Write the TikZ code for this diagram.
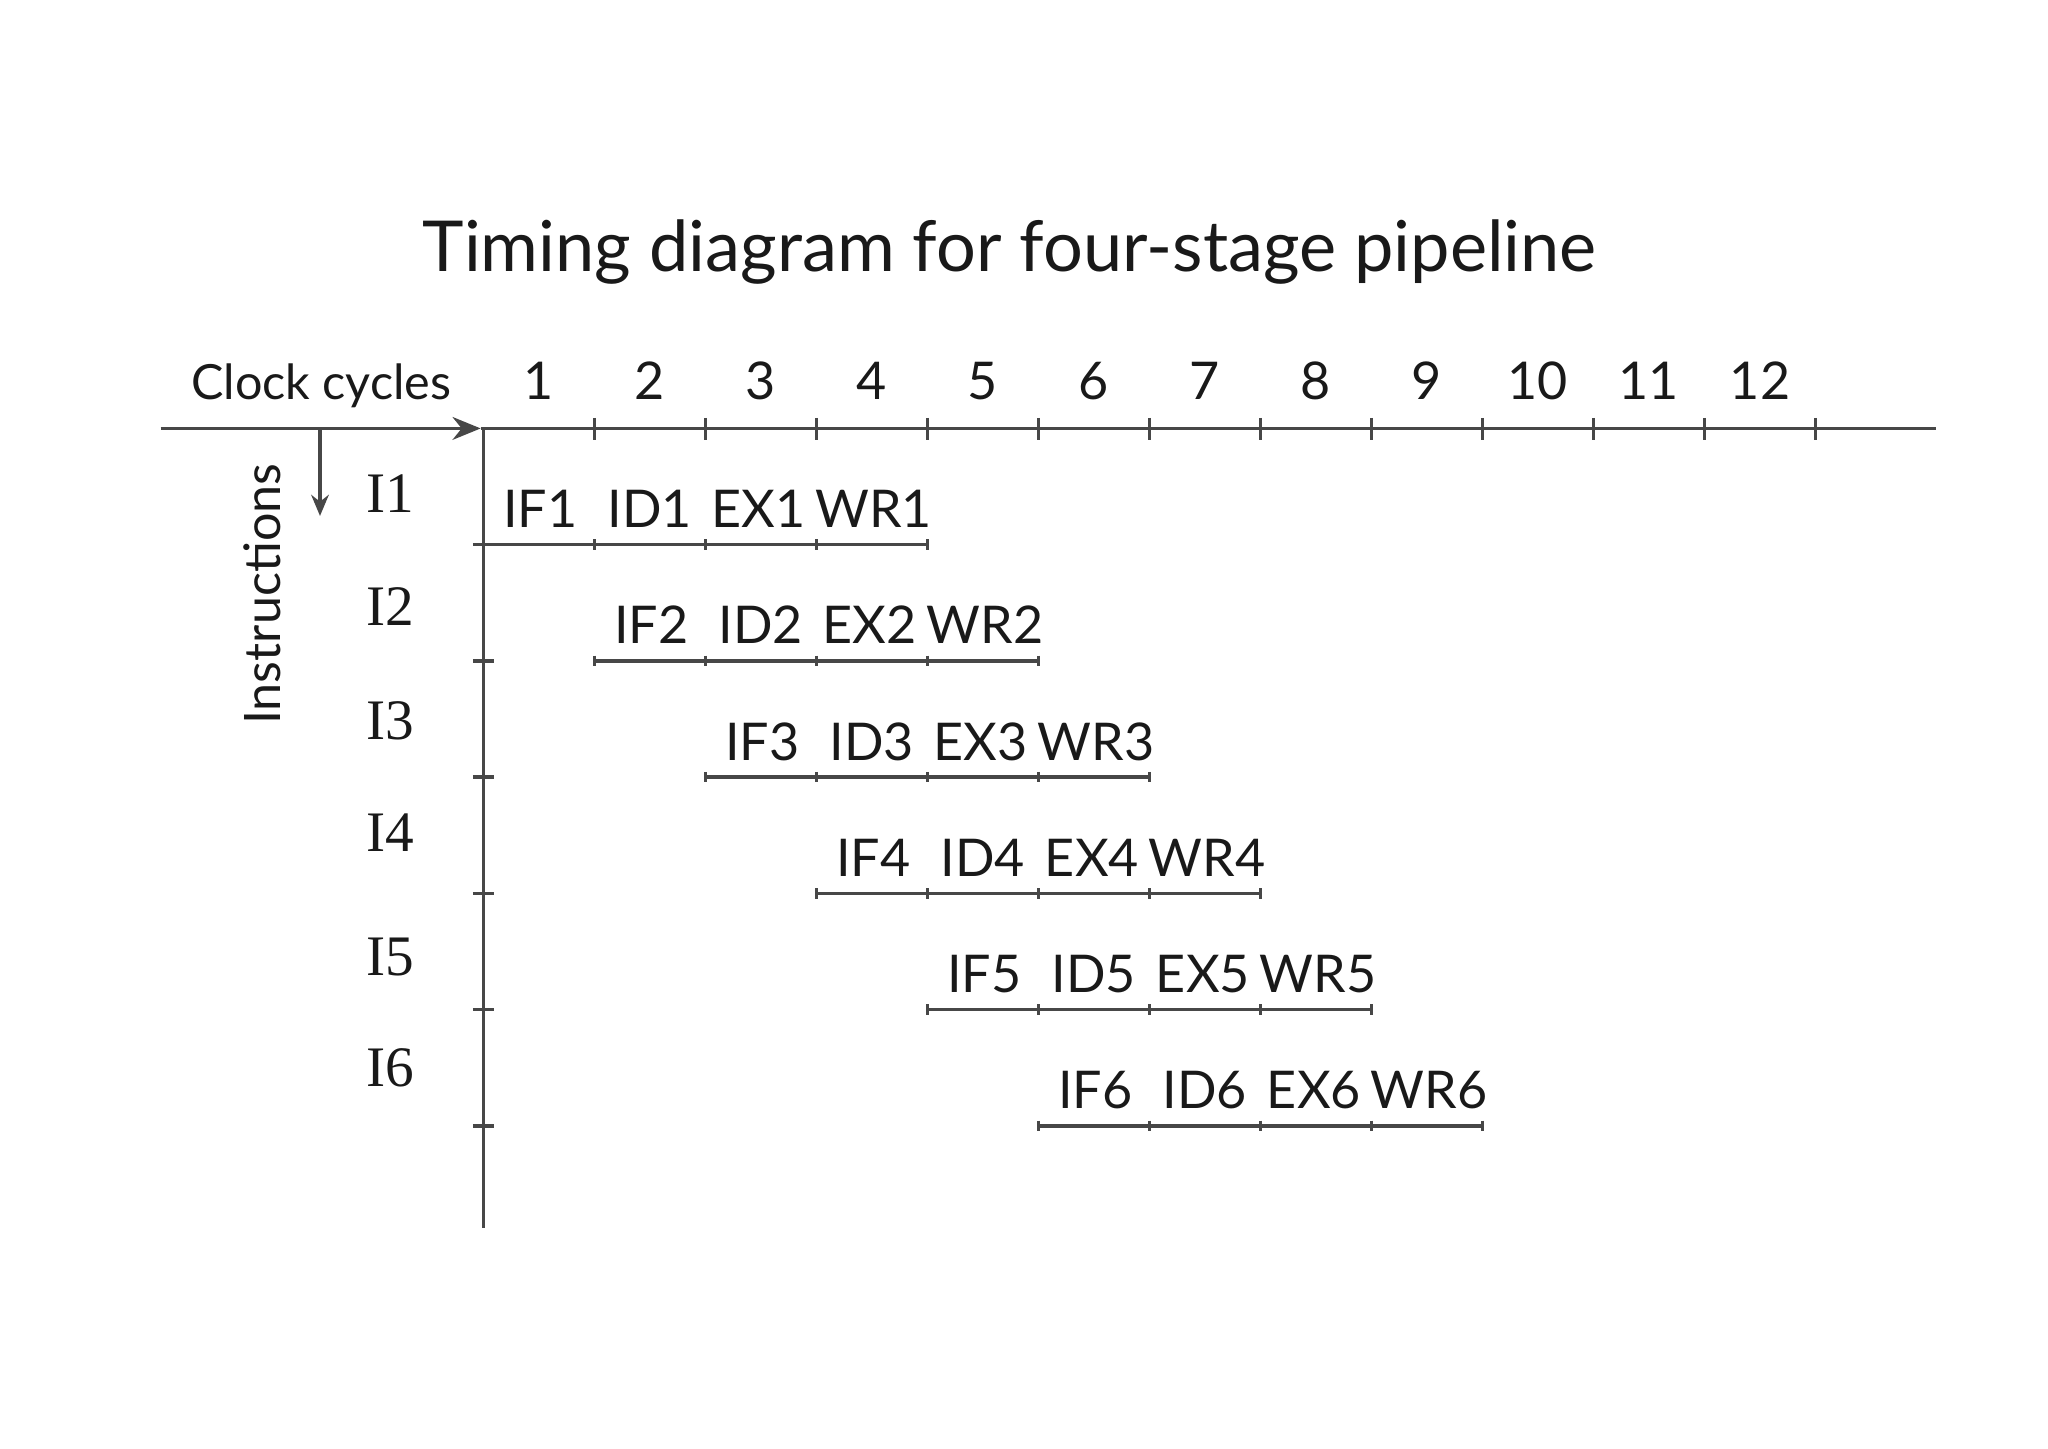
\documentclass[tikz,border=0pt]{standalone}
\usepackage{fontspec}
\setmainfont{Lato}
\newfontfamily\instrfont{Liberation Serif}
\usepackage{xcolor}
\usetikzlibrary{arrows.meta,positioning}

\begin{document}
\begin{tikzpicture}[x = 0.01306cm, y = {(0cm,-0.01306cm)},
    axis/.style = {line width = 1pt, draw = black!72},
    cyc/.style = {anchor = base, inner sep = 0pt, text = black!90, font = \fontsize{14.8}{16}\selectfont}]
    \useasboundingbox (0,0) rectangle (1568,1109);
    \node[anchor = base, inner sep = 0pt, text = black!90, font = \fontsize{20}{22}\selectfont] (title) at (773,208) {Timing diagram for four-stage pipeline};
    \node[cyc, font = \fontsize{13.8}{16}\selectfont] (clk) at (246,306) {Clock cycles};
    % axes
    \coordinate (xstart) at (123,328);
    \coordinate (xtip) at (368,328);
    \coordinate (xend) at (1482,328);
    \coordinate (origin) at (370,328);
    \coordinate (ybot) at (370,940);
    \draw[axis, -{Stealth[length = 8pt, width = 6.5pt]}] (xstart) -- (xtip);
    \draw[axis] (xtip) -- (xend);
    \draw[axis] (origin) -- (ybot);
    \foreach \k in {1,...,12} {
      \draw[axis] ({370+85*\k},320) -- ({370+85*\k},337);
      \node[cyc] (n\k) at ({327.5+85*\k},306) {\k};
    }
    % instructions
    \coordinate (dtop) at (245,328);
    \coordinate (dtip) at (245,395);
    \draw[axis, -{Stealth[length = 6pt, width = 5pt]}] (dtop) -- (dtip);
    \node[cyc, rotate = 90, font = \fontsize{14.3}{16}\selectfont] (instr) at (215,455) {Instructions};
    \foreach \r/\b in {1/392, 2/479, 3/566, 4/652, 5/747, 6/832} {
      \node[anchor = base, inner sep = 0pt, text = black!90, font = \instrfont\fontsize{16.3}{18}\selectfont] (i\r) at (299,\b) {I\r};
      \draw[axis] (362,{328+89*\r}) -- (378,{328+89*\r});
      \draw[axis] ({285+85*\r},{328+89*\r}) -- ({625+85*\r},{328+89*\r});
      \foreach \s in {0,...,4}
        \draw[axis] ({285+85*\r+85*\s},{324+89*\r}) -- ({285+85*\r+85*\s},{332+89*\r});
      \node[cyc] (if\r) at ({328.5+85*\r},{315+89*\r}) {IF\r};
      \node[cyc] (id\r) at ({412.5+85*\r},{315+89*\r}) {ID\r};
      \node[cyc] (ex\r) at ({496+85*\r},{315+89*\r}) {EX\r};
      \node[cyc] (wr\r) at ({584+85*\r},{315+89*\r}) {WR\r};
    }
  \end{tikzpicture}
\end{document}
